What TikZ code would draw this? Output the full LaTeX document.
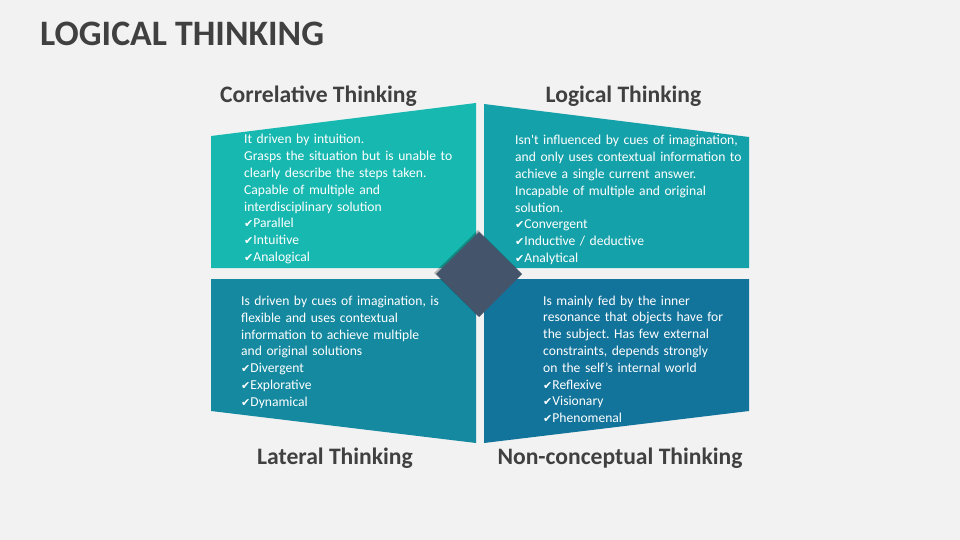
\documentclass[tikz,border=0pt]{standalone}
\usepackage{fontspec}
\setmainfont{Carlito}
\newfontfamily\dvfont{DejaVu Sans}
\frenchspacing
\definecolor{bgc}{HTML}{F2F2F2}
\definecolor{titlec}{HTML}{404040}
\definecolor{ctl}{HTML}{17B8B0}
\definecolor{ctr}{HTML}{15A1A9}
\definecolor{cbl}{HTML}{1489A0}
\definecolor{cbr}{HTML}{12739B}
\definecolor{cdia}{HTML}{44546A}
\newcommand\ck{{\dvfont\fontsize{11}{16.8}\selectfont ✔}}
\tikzset{
  body/.style={anchor=base west, inner sep=0pt, align=left, text width=260pt, text=white, font=\fontsize{13.6}{16.8}\selectfont\frenchspacing},
  head/.style={anchor=base, inner sep=0pt, text=titlec, font=\fontsize{23.6}{26}\selectfont\bfseries},
}
\begin{document}
\begin{tikzpicture}[x=1pt,y=-1pt]
\fill[bgc] (0,0) rectangle (960,540);
\useasboundingbox (0,0) rectangle (960,540);
\node[anchor=base west, inner sep=0pt, text=titlec, font=\fontsize{35.8}{40}\selectfont\bfseries] (title) at (40,46) {LOGICAL THINKING};
% panels
\fill[ctl] (211,136) -- (476,103) -- (476,268) -- (211,268) -- cycle;
\fill[ctr] (484,104) -- (749,137) -- (749,268) -- (484,268) -- cycle;
\fill[cbl] (211,279) -- (476,279) -- (476,443) -- (211,411) -- cycle;
\fill[cbr] (484,279) -- (749,279) -- (749,411) -- (484,443) -- cycle;
% diamond
\fill[black,opacity=0.25] (478,230) -- (434,273) -- (478,316) -- (521,273) -- cycle;
\fill[cdia] (479,232) -- (436,274) -- (479,317) -- (522,274) -- cycle;
% headings
\node[head] (h1) at (318.5,102.5) {Correlative Thinking};
\node[head] (h2) at (623.5,102.5) {Logical Thinking};
\node[head] (h3) at (335,464.5) {Lateral Thinking};
\node[head] (h4) at (620,464.5) {Non-conceptual Thinking};
% body texts
\node[body] (t1) at (244,144) {It driven by intuition.\\Grasps the situation but is unable to\\clearly describe the steps taken.\\Capable of multiple and\\interdisciplinary solution\\\ck Parallel\\\ck Intuitive\\\ck Analogical};
\node[body] (t2) at (515,145) {Isn\textquotesingle t influenced by cues of imagination,\\and only uses contextual information to\\achieve a single current answer.\\Incapable of multiple and original\\solution.\\\ck Convergent\\\ck Inductive / deductive\\\ck Analytical};
\node[body] (t3) at (241,305.5) {Is driven by cues of imagination, is\\flexible and uses contextual\\information to achieve multiple\\and original solutions\\\ck Divergent\\\ck Explorative\\\ck Dynamical};
\node[body] (t4) at (543,305) {Is mainly fed by the inner\\resonance that objects have for\\the subject. Has few external\\constraints, depends strongly\\on the self’s internal world\\\ck Reflexive\\\ck Visionary\\\ck Phenomenal};
\end{tikzpicture}
\end{document}
